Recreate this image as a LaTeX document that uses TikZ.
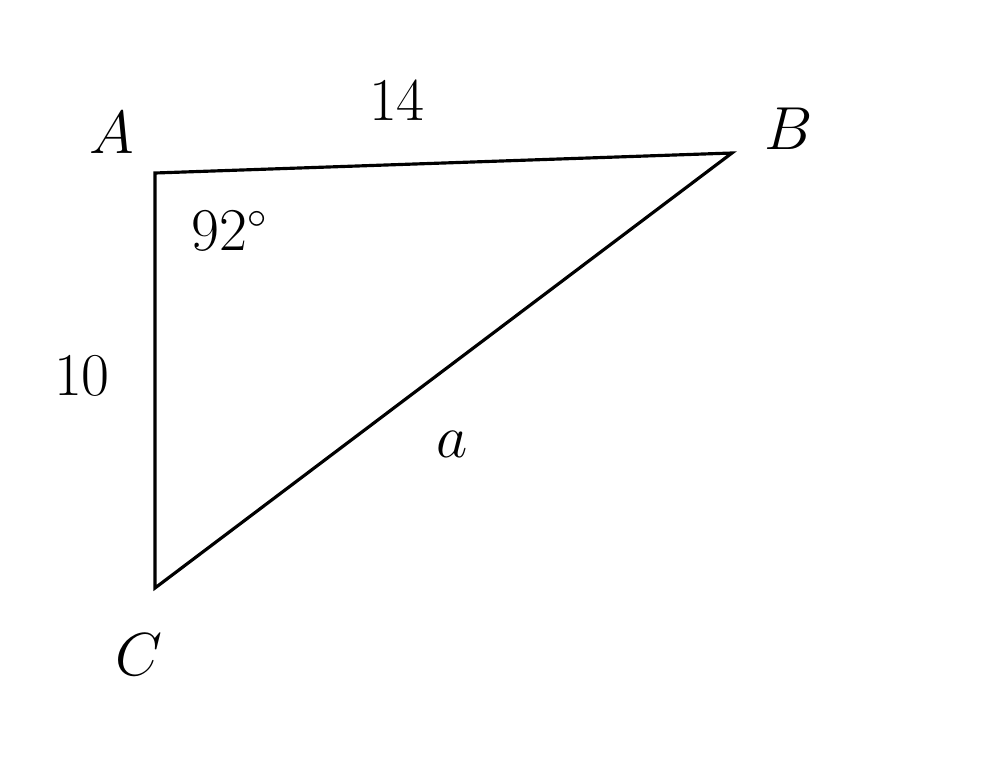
\documentclass[tikz,border=0pt]{standalone}
\begin{document}
\begin{tikzpicture}[x=0.01cm,y=-0.01cm,
  lbl/.style={font=\fontsize{16}{19}\selectfont, inner sep=0pt},
  side/.style={line width=0.9pt}]
\useasboundingbox (0,0) rectangle (996,760);
\coordinate (A) at (155,173);
\coordinate (B) at (732,153);
\coordinate (C) at (155,588);
\draw[side] (A) -- (B) -- (C) -- cycle;
\node[lbl] (lA) at (112,133) {$A$};
\node[lbl] (lB) at (789,129) {$B$};
\node[lbl] (lC) at (139,655) {$C$};
\node[lbl] (l14) at (397,101) {$14$};
\node[lbl] (lang) at (230,231) {$92^\circ$};
\node[lbl] (l10) at (82,376) {$10$};
\node[lbl] (la) at (452,444) {$a$};
\end{tikzpicture}
\end{document}
